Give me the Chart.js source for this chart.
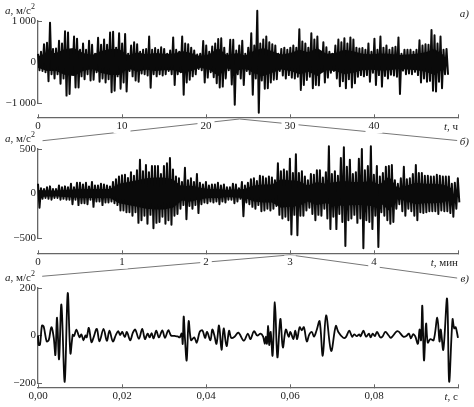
<!DOCTYPE html>
<html>
<head>
<meta charset="utf-8">
<script src="https://cdn.jsdelivr.net/npm/chart.js@4"></script>
<style>
html, body { margin: 0; background: #fff; }
#page { position: relative; width: 474px; height: 407px; overflow: hidden; font-family: "Liberation Serif", serif; color: #222; font-size: 11px; }
canvas { position: absolute; left: 0; }
.txt { position: absolute; line-height: 12px; white-space: nowrap; }
.txt sup { font-size: 8px; line-height: 0; }
</style>
</head>
<body>
<div id="page">
  <canvas id="chartA" width="474" height="145" style="top:0"></canvas>
  <canvas id="chartB" width="474" height="160" style="top:125px"></canvas>
  <canvas id="chartC" width="474" height="142" style="top:265px"></canvas>
  <span class="txt" style="left:5px;top:4px"><i>a</i>, м/с<sup>2</sup></span>
  <span class="txt" style="left:5px;top:132px"><i>a</i>, м/с<sup>2</sup></span>
  <span class="txt" style="left:5px;top:271px"><i>a</i>, м/с<sup>2</sup></span>
  <span class="txt" style="right:5px;top:7px"><i>а)</i></span>
  <span class="txt" style="right:5px;top:135px"><i>б)</i></span>
  <span class="txt" style="right:5px;top:272px"><i>в)</i></span>
  <span class="txt" style="right:16px;top:120px"><i>t</i>, ч</span>
  <span class="txt" style="right:16px;top:256px"><i>t</i>, мин</span>
  <span class="txt" style="right:16px;top:390px"><i>t</i>, с</span>
</div>
<script>
// panel a: peaks per sample, hours
const aStep = 0.3576;
const aUpper = [200,250,430,470,960,320,330,520,450,750,720,300,620,570,300,450,300,520,420,200,590,420,550,420,720,740,350,700,450,680,200,400,480,430,250,300,320,620,300,340,300,360,320,200,280,600,300,250,620,450,430,350,280,180,200,510,400,250,380,450,560,580,350,200,540,540,280,400,520,200,350,700,400,1250,450,550,620,480,430,400,200,320,350,300,350,400,350,800,500,450,350,700,550,620,200,480,360,250,200,400,550,480,580,450,600,550,350,330,340,300,450,250,570,300,620,350,400,300,350,370,600,200,300,300,300,250,300,530,400,430,420,780,650,450,620,300,320];
const aLower = [-200,-220,-250,-470,-300,-400,-300,-530,-400,-820,-780,-300,-620,-620,-350,-420,-300,-450,-430,-250,-480,-400,-500,-420,-740,-700,-350,-650,-500,-720,-220,-350,-450,-480,-280,-300,-330,-630,-300,-350,-300,-330,-300,-220,-300,-560,-300,-250,-800,-500,-430,-350,-300,-170,-200,-500,-380,-250,-370,-520,-620,-600,-400,-200,-550,-1040,-300,-400,-560,-220,-300,-800,-400,-1240,-450,-650,-640,-500,-430,-420,-220,-330,-400,-320,-380,-400,-360,-680,-560,-440,-360,-640,-560,-570,-200,-500,-380,-260,-220,-400,-590,-470,-640,-420,-620,-520,-360,-320,-350,-320,-480,-260,-560,-320,-600,-340,-400,-310,-330,-360,-780,-210,-300,-280,-300,-240,-320,-500,-400,-480,-460,-700,-720,-480,-640,-300,-310];
// solid part of the band, read every third sample
const aCore = [140,220,220,320,340,220,170,270,320,320,160,240,190,220,200,200,270,220,140,190,340,160,220,160,280,340,260,180,220,300,240,340,200,220,300,260,200,190,210,200,170,180,200,240,320,170];
const aTicksY = {'-1000':'\u22121\u2009000', '0':'0', '1000':'1\u2009000'};
const aTicksX = {0:'0', 10:'10', 20:'20', 30:'30', 40:'40'};
const aZoomLineX = [0.54, 24, 49.9];
const aZoomLineY = [-1920, -1390, -1915];

// panel b: minutes
const bStep = 0.0357;
const bUpper = [110,60,50,70,80,50,50,90,70,80,70,110,70,120,120,100,120,80,130,90,90,110,100,90,80,130,160,190,205,210,175,240,200,260,380,250,320,240,310,310,310,220,310,340,400,270,190,170,130,290,150,170,130,220,120,100,130,90,100,100,120,90,100,70,70,110,100,60,130,90,120,160,170,140,200,190,170,190,180,150,340,250,270,250,390,230,440,230,250,190,150,220,210,260,260,180,240,530,220,250,200,400,520,300,380,220,240,390,500,260,310,530,210,310,190,230,300,310,320,150,110,170,300,160,170,220,320,230,230,200,200,190,190,210,200,190,190,190,110,120,170];
const bLower = [-160,-60,-50,-60,-70,-50,-50,-70,-60,-70,-70,-120,-70,-130,-110,-110,-120,-70,-150,-90,-90,-130,-100,-100,-90,-110,-130,-190,-190,-210,-210,-250,-210,-330,-300,-250,-340,-240,-390,-330,-320,-260,-340,-300,-350,-250,-230,-170,-130,-290,-140,-170,-130,-220,-120,-100,-110,-90,-100,-90,-120,-90,-100,-70,-70,-110,-90,-60,-255,-100,-120,-150,-170,-130,-200,-190,-170,-190,-170,-140,-240,-280,-260,-300,-460,-240,-470,-250,-250,-190,-160,-230,-300,-240,-250,-170,-280,-400,-260,-400,-230,-320,-590,-300,-280,-240,-330,-280,-615,-300,-320,-400,-250,-600,-210,-250,-300,-340,-320,-170,-120,-200,-250,-170,-200,-250,-300,-210,-220,-210,-200,-200,-200,-230,-190,-200,-200,-220,-260,-170,-100];
const bCore = [40,35,30,40,45,50,50,50,50,110,130,150,170,180,180,160,80,90,65,50,50,40,45,50,90,100,100,160,150,140,90,130,110,130,140,130,130,140,100,190,60,90,120,110,110,100,60];
const bTicksY = {'-500':'\u2212500', '0':'0', '500':'500'};
const bTicksX = {0:'0', 1:'1', 2:'2', 3:'3', 4:'4'};
const bZoomLineX = [0.05, 3, 4.99];
const bZoomLineY = [-930, -690, -950];

// panel c: milliseconds, turning points of the wave
const cTime = [0,0.16,0.48,0.95,1.35,2.07,2.55,3.18,3.74,4.14,4.53,5.01,5.57,6.36,7.08,7.72,8.27,8.59,9.15,9.86,10.34,10.82,11.3,11.6,12.1,12.73,13.2,14,14.64,15.6,16.39,17.02,17.82,18.6,19.1,19.57,20.05,20.68,21.16,21.96,22.59,23.15,24.02,24.82,25.46,26.1,26.57,27.05,27.53,28.16,28.8,29.6,30.23,31.03,31.66,32.46,33.25,33.73,34.2,34.45,34.69,35,35.4,35.88,36.44,37.2,37.8,38.5,39.14,39.78,40.25,41.05,41.5,42,42.5,43.1,43.7,44.2,44.9,45.5,46,46.8,47.7,49,49.96,50.6,51.4,52.2,53,53.6,54,54.25,54.5,54.8,55.05,55.4,55.85,56.4,57,57.7,58.3,59,59.7,60.1,60.8,61.25,61.7,62.3,62.8,63.3,64,64.6,65.2,65.7,66.3,67.05,67.8,68.6,69.8,70.9,71.5,72.7,73.3,74.1,74.8,75.3,75.9,76.5,76.8,77.5,78.1,78.8,79.2,79.7,80.2,80.7,81.5,82,82.7,83.5,84,85.6,87,87.7,88.3,88.8,89.3,89.8,90.45,90.85,91.2,91.5,91.9,92.4,92.8,93.4,94.2,95.07,95.6,95.9,96.5,97.4,97.9,98.7,99.1,99.45,100];
const cValues = [0,-40,-38,42,38,-25,-20,35,-8,-82,75,-100,130,-195,178,-75,3,-2,25,-7,4,-20,0,-8,32,-28,-10,28,-25,28,-22,20,-25,5,18,2,15,-7,15,-20,12,25,-14,28,-15,8,-8,10,-12,20,-8,22,-10,22,0,-2,-4,-8,8,-35,80,-15,-105,60,-20,-8,-30,15,22,-10,15,-20,25,0,-35,42,-60,30,-45,20,-10,-5,12,-22,8,-15,18,0,8,-5,-35,-5,-35,40,-40,15,-85,140,-92,70,-50,25,-5,15,-15,20,-15,35,22,35,-25,5,15,-5,20,60,-85,85,-65,40,15,-10,-7,20,-5,5,-3,5,-3,20,-5,8,-8,8,-3,15,-8,-5,15,0,-10,18,-5,-2,8,-12,5,-3,-35,25,-20,125,-105,50,-30,-15,-20,75,-25,25,-60,155,-195,68,30,35,-10];
const cTicksY = {'-200':'\u2212200', '0':'0', '200':'200'};
const cTicksX = {0:'0,00', 20:'0,02', 40:'0,04', 60:'0,06', 80:'0,08'};

const axisColor = '#666';
const inkColor = '#0a0a0a';
const connectorColor = '#777';

// zig-zag between upper and lower peaks
function zigzag(upper, lower, step) {
    let pts = [];
    for (let i = 0; i < upper.length; i++) {
        pts.push({x: i * step, y: upper[i]});
        pts.push({x: (i + 0.5) * step, y: lower[i]});
    }
    return pts;
}

function zip(xs, ys) {
    return xs.map((x, i) => ({x: x, y: ys[i]}));
}

function coreSide(core, step, sign) {
    return core.map((v, i) => ({x: i * 3 * step, y: sign * v}));
}

function makeChart(id, opt) {
    const ctx = document.getElementById(id).getContext('2d');
    const datasets = [{
        data: opt.signal,
        borderColor: inkColor,
        borderWidth: opt.lineWidth,
        borderJoinStyle: 'round',
        tension: opt.tension,
        pointRadius: 0,
        clip: false
    }, {
        data: opt.connector,
        borderColor: connectorColor,
        borderWidth: 1,
        tension: 0,
        pointRadius: 0,
        clip: false
    }];
    opt.core.forEach((side, i) => {
        datasets.push({
            data: side,
            borderWidth: 0,
            backgroundColor: inkColor,
            fill: i == 0 ? false : '-1',
            tension: 0,
            pointRadius: 0,
            clip: false
        });
    });
    return new Chart(ctx, {
        type: 'line',
        data: { datasets: datasets },
        options: {
            responsive: false,
            animation: false,
            events: [],
            layout: { padding: { top: opt.top, right: 16, left: 0, bottom: opt.below } },
            plugins: { legend: { display: false }, tooltip: { enabled: false } },
            scales: {
                x: {
                    type: 'linear',
                    position: { y: opt.axisAt },
                    min: opt.xMin,
                    max: opt.xMax,
                    afterFit: s => { s.height = 0; },
                    afterBuildTicks: s => { s.ticks = opt.xTickValues.map(v => ({value: v})); },
                    grid: { drawOnChartArea: false, tickLength: -4, tickColor: axisColor, tickWidth: 1 },
                    border: { color: axisColor, width: 1.3 },
                    ticks: {
                        z: 1,
                        padding: 6,
                        maxRotation: 0,
                        autoSkip: false,
                        color: '#222',
                        font: { family: 'Liberation Serif', size: 11 },
                        showLabelBackdrop: true,
                        backdropColor: '#fff',
                        backdropPadding: { x: 3, y: 0 },
                        callback: v => (opt.xLabels[v] !== undefined ? opt.xLabels[v] : '')
                    }
                },
                y: {
                    min: opt.yMin,
                    max: opt.yMax,
                    afterFit: s => { s.width = 38; },
                    afterBuildTicks: s => { s.ticks = [opt.yMin, 0, opt.yMax].map(v => ({value: v})); },
                    grid: { drawOnChartArea: false, tickLength: -4, tickColor: axisColor, tickWidth: 1 },
                    border: { color: axisColor, width: 1.3 },
                    ticks: {
                        padding: 6,
                        color: '#222',
                        font: { family: 'Liberation Serif', size: 11 },
                        callback: v => opt.yLabels[v]
                    }
                }
            }
        }
    });
}

makeChart('chartA', {
    signal: zigzag(aUpper, aLower, aStep),
    connector: zip(aZoomLineX, aZoomLineY),
    core: [coreSide(aCore, aStep, 1), coreSide(aCore, aStep, -1)],
    lineWidth: 2, tension: 0,
    top: 21, below: 42,
    axisAt: -1366,
    xMin: 0, xMax: 50, xTickValues: [0, 10, 20, 30, 40, 50], xLabels: aTicksX,
    yMin: -1000, yMax: 1000, yLabels: aTicksY
});

makeChart('chartB', {
    signal: zigzag(bUpper, bLower, bStep),
    connector: zip(bZoomLineX, bZoomLineY),
    core: [coreSide(bCore, bStep, 1), coreSide(bCore, bStep, -1)],
    lineWidth: 2, tension: 0,
    top: 24, below: 47,
    axisAt: -673,
    xMin: 0, xMax: 5, xTickValues: [0, 1, 2, 3, 4, 5], xLabels: bTicksX,
    yMin: -500, yMax: 500, yLabels: bTicksY
});

makeChart('chartC', {
    signal: zip(cTime, cValues),
    connector: [],
    core: [],
    lineWidth: 1.8, tension: 0.35,
    top: 23, below: 24,
    axisAt: -221,
    xMin: 0, xMax: 100, xTickValues: [0, 20, 40, 60, 80, 100], xLabels: cTicksX,
    yMin: -200, yMax: 200, yLabels: cTicksY
});
</script>
</body>
</html>
